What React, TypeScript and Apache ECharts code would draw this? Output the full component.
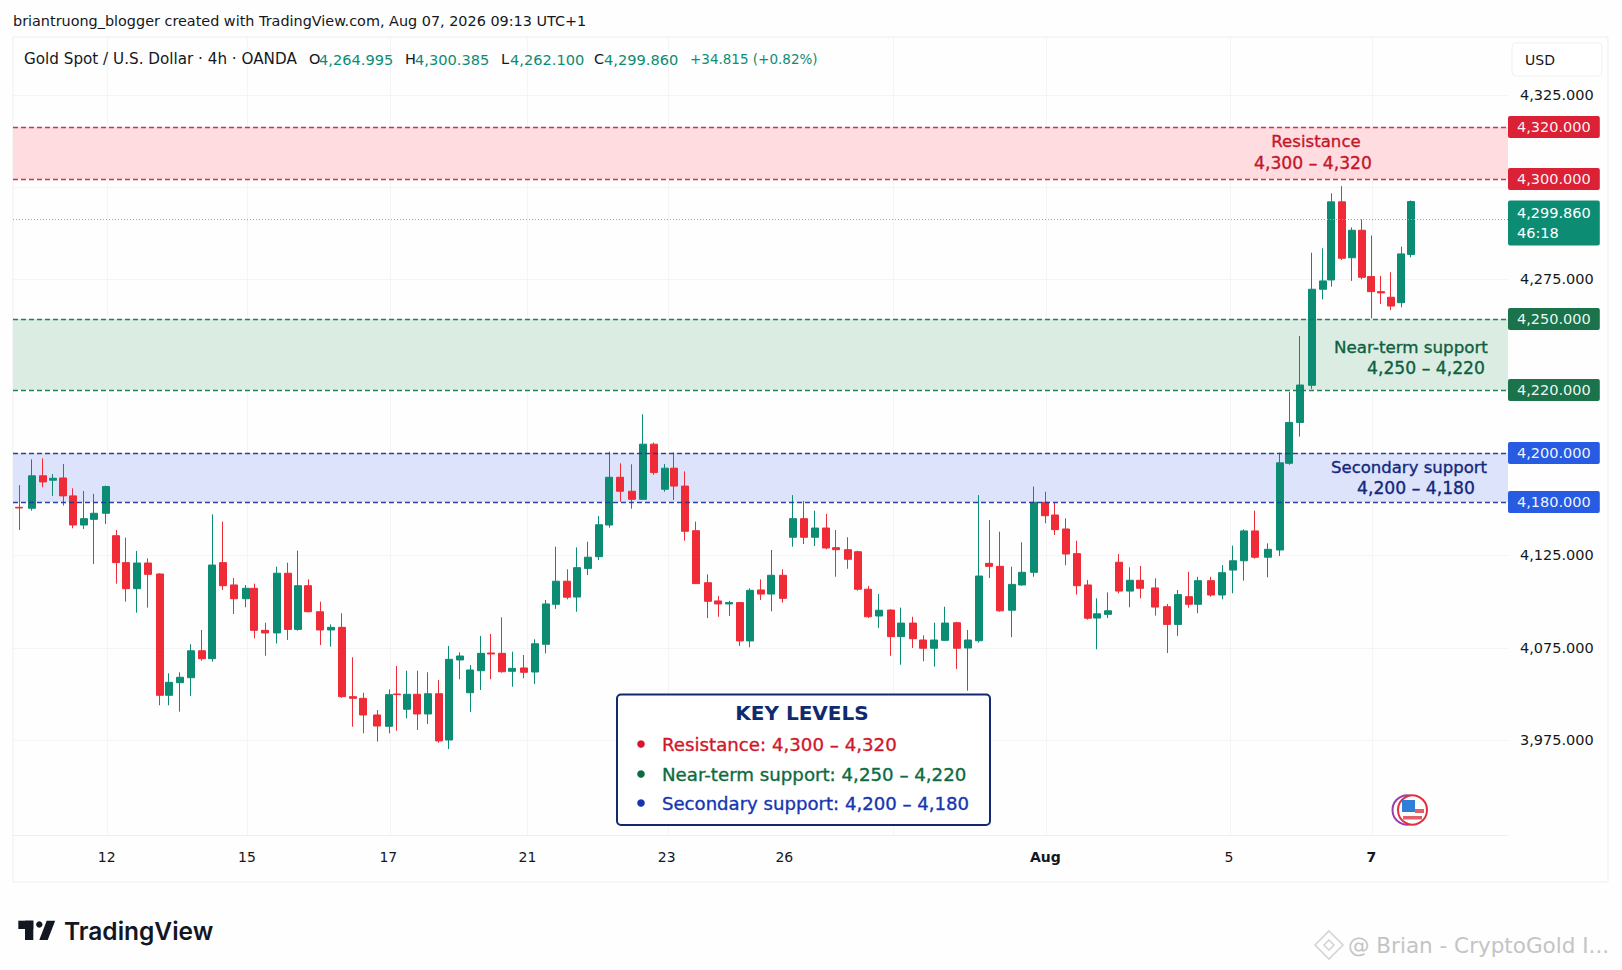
import React, { useEffect, useRef } from "react";
import * as echarts from "echarts";

const candleSlots = [
  0, 1.2, 2.2, 3.1, 4.1, 5, 6, 6.9, 8, 9,
  9.9, 10.9, 11.9, 13, 13.9, 14.9, 15.9, 16.9, 17.9, 18.9,
  19.9, 21, 21.8, 22.8, 23.9, 24.9, 25.8, 26.8, 27.9, 28.9,
  29.9, 30.9, 31.9, 33.2, 34.3, 35, 35.9, 36.9, 37.9, 38.9,
  39.8, 40.8, 41.8, 42.8, 43.7, 44.7, 45.7, 46.8, 47.8, 48.8,
  49.7, 50.8, 51.7, 52.7, 53.7, 54.7, 55.7, 56.8, 57.8, 58.8,
  59.8, 60.7, 61.7, 62.7, 63.8, 64.8, 65.8, 66.8, 67.7, 68.7,
  69.7, 70.8, 71.7, 72.7, 73.7, 74.8, 75.7, 76.8, 77.7, 78.7,
  79.7, 80.8, 81.7, 82.8, 83.8, 84.8, 85.8, 86.9, 87.9, 88.9,
  89.9, 90.9, 92, 92.9, 94, 95.1, 96, 97, 98, 99,
  99.9, 100.9, 101.9, 102.9, 103.9, 105.3, 106.4, 107.4, 108.4, 109.2,
  110.4, 111.5, 112.5, 113.5, 114.5, 115.7, 116.8, 117.7, 118.7, 119.8,
  120.8, 121.6, 122.6, 123.5, 124.4, 125.3, 126.2, 127.1, 128.1, 129,
];
const opens = [
  4174.5, 4173.5, 4190.7, 4188.9, 4189.8, 4182.5, 4156.1, 4162, 4168.3, 4145,
  4120.9, 4106.9, 4120.7, 4114.8, 4023.6, 4037.3, 4042.7, 4072, 4063.4, 4120.9,
  4108.9, 4101.5, 4107.1, 4084.5, 4083.1, 4115.2, 4085, 4108.5, 4094.5, 4084.7,
  4086.1, 4022.1, 4020.3, 4002.2, 3989.9, 4025, 4008.4, 4024.7, 4003.3, 4025.3,
  3975, 4062, 4026.4, 4050.3, 4069.6, 4069.2, 4049.7, 4053.3, 4048.9, 4077,
  4098.5, 4110.9, 4102.4, 4117.8, 4124.1, 4156.1, 4190.1, 4184.4, 4181.1, 4202.8,
  4185.2, 4193.8, 4186.5, 4150.2, 4110.1, 4100.3, 4098.7, 4099.4, 4078.8, 4106.2,
  4104, 4114.1, 4143.4, 4162.7, 4143.4, 4153, 4132.6, 4130.5, 4128.4, 4106.6,
  4092.2, 4095.4, 4081.1, 4088.4, 4079.3, 4074.7, 4079.1, 4088.6, 4075, 4078.9,
  4120.5, 4118.9, 4095.3, 4108.9, 4115.7, 4179.7, 4166.5, 4152, 4126.4, 4108.9,
  4091.1, 4093.1, 4121.1, 4105.6, 4111.4, 4107.3, 4097.2, 4087.7, 4102.6, 4098.5,
  4111.2, 4103.5, 4116.9, 4121.9, 4150, 4123.8, 4130.2, 4195.8, 4209.7, 4222,
  4268.6, 4274.4, 4299.92, 4283.8, 4295.2, 4276, 4267.1, 4263.6, 4260.2, 4285.2,
];
const closes = [
  4173.8, 4190.7, 4188.2, 4189.7, 4182.5, 4156.1, 4162.7, 4168.3, 4186.3, 4120.9,
  4106.9, 4120.7, 4114.6, 4023.6, 4037.7, 4043.2, 4072, 4063.4, 4119.6, 4108.5,
  4101.5, 4107.1, 4084.5, 4083.1, 4115.2, 4085, 4108.5, 4094.5, 4084.7, 4086.1,
  4022.1, 4020.3, 4002.2, 3990.2, 4024.3, 4024.3, 4024.7, 4003.3, 4025.3, 3974,
  4062.7, 4066.3, 4051.1, 4069.2, 4068.5, 4049.2, 4052.9, 4048.6, 4077.3, 4098.7,
  4110.9, 4102.3, 4118.2, 4123.8, 4156.4, 4190.1, 4184.4, 4181.1, 4202.8, 4192,
  4193.8, 4186.5, 4149.6, 4109.6, 4100.1, 4098.7, 4099.4, 4078.8, 4106, 4104,
  4114.1, 4101.7, 4162.7, 4143.4, 4153, 4132.3, 4130.5, 4122.7, 4106.6, 4091.8,
  4095.3, 4081.1, 4088.4, 4080, 4074.7, 4079.3, 4088.4, 4074.7, 4079.3, 4113.7,
  4118.9, 4095, 4109.2, 4115.7, 4179.7, 4165.8, 4151.3, 4126, 4108.5, 4091,
  4093.4, 4095, 4105.6, 4111.4, 4107.1, 4097, 4087.7, 4103.7, 4098.5, 4111.2,
  4103.5, 4115.5, 4121.9, 4150, 4123.8, 4130.9, 4196, 4209.7, 4222.1, 4268.6,
  4273.8, 4299.92, 4283.6, 4295.2, 4275.7, 4267.1, 4266.3, 4258.1, 4285.4, 4299.921,
];
const lows = [
  4151, 4171, 4186, 4182.5, 4176.2, 4152.7, 4152, 4120.2, 4157.2, 4109.6,
  4099.9, 4094, 4096.7, 4012.7, 4012.7, 4005.8, 4022.8, 4061.2, 4060.1, 4106.2,
  4093.3, 4096.9, 4080.2, 4066.6, 4077.4, 4079.3, 4084.3, 4094.2, 4076.6, 4075.7,
  4020.7, 3989.5, 3982.3, 3973.2, 3982.3, 3985.1, 3998.6, 3985.9, 3992.4, 3972,
  3965.2, 4041, 4005.4, 4029.3, 4041, 4048.2, 4032.9, 4042.1, 4035.9, 4069.2,
  4096, 4101.2, 4094.5, 4114.2, 4122.3, 4153.3, 4180.1, 4173.1, 4180.8, 4191.1,
  4184.2, 4180.8, 4139.8, 4109.4, 4091.1, 4091.8, 4092.2, 4076.1, 4075.4, 4100.8,
  4094.7, 4099.4, 4133.6, 4136.4, 4134.3, 4130.9, 4113.3, 4117.6, 4105.8, 4091.1,
  4085.8, 4066.6, 4056.8, 4075, 4060.5, 4054.7, 4078.8, 4052.2, 4028.6, 4077.9,
  4112.6, 4094.5, 4080.8, 4108.5, 4113.3, 4157.9, 4145.8, 4119.5, 4103.7, 4090.2,
  4073.6, 4091.1, 4104.4, 4096.9, 4101.7, 4092.4, 4069.6, 4081.5, 4096.7, 4093.7,
  4102.6, 4101.2, 4104.4, 4111.2, 4123, 4113, 4124.5, 4195.2, 4205.2, 4220.5,
  4262.3, 4270.2, 4282.9, 4273.8, 4274.8, 4250.4, 4259.4, 4255.6, 4257.3, 4284,
];
const highs = [
  4186.9, 4197.4, 4197.8, 4191.4, 4195.5, 4185.6, 4184.5, 4183.3, 4186.7, 4150.9,
  4143, 4129.2, 4123.2, 4115.2, 4047.5, 4048.6, 4077, 4084.7, 4167.2, 4159.6,
  4112.6, 4108.9, 4109.6, 4088.6, 4118.7, 4120.9, 4129.5, 4111.9, 4099.9, 4087.7,
  4093.7, 4064.9, 4026.4, 4007.6, 4030.1, 4055.4, 4050.3, 4050.3, 4048.6, 4040.2,
  4076.1, 4070.3, 4056.5, 4081.5, 4082.5, 4091.5, 4071, 4067.4, 4079.7, 4100.8,
  4133.6, 4117.3, 4132.9, 4138.8, 4165.5, 4200.4, 4195.8, 4195.4, 4212.3, 4203.3,
  4195.5, 4200.2, 4192.5, 4159.6, 4114.6, 4103, 4100.4, 4099.7, 4107.1, 4111.9,
  4130.2, 4117.3, 4182.8, 4180.4, 4171, 4167.5, 4150.9, 4143.4, 4129.5, 4108.3,
  4104, 4095.8, 4096.7, 4091.8, 4081.8, 4088.6, 4097.2, 4089.1, 4084.7, 4182.8,
  4161.3, 4149.2, 4118.7, 4138.2, 4186.3, 4184.2, 4179.7, 4163.1, 4139.8, 4111.6,
  4101.7, 4104.9, 4126, 4118.4, 4119.1, 4112.5, 4098.7, 4106.2, 4116, 4113.3,
  4113.3, 4119.6, 4134.7, 4151.7, 4171, 4137.1, 4200.1, 4219.4, 4242.8, 4285.9,
  4287.7, 4299.95, 4299.975, 4296.4, 4299.7, 4293, 4276.3, 4277.8, 4288.4, 4299.925,
];

const yTickPrices = [4325, 4275, 4125, 4075, 3975];
const resistanceLevels = [4320, 4300];
const nearTermLevels = [4250, 4220];
const secondaryLevels = [4200, 4180];
const lastPrice = 4299.86;
const countdown = "46:18";
const xTickPositions = [8.1, 21.1, 34.2, 47.1, 60, 70.9, 95.1, 112.1, 125.3];
const xTickLabels = ["12", "15", "17", "21", "23", "26", "Aug", "5", "7"];
const xGridPositions = [8.2, 21.1, 34.4, 47.1, 60.1, 81, 95.2, 112.2, 125.4];

// The picture's price labels are not evenly spaced, so the scale is read off them.
const scalePrices = [3975, 4075, 4125, 4180, 4200, 4220, 4250, 4275, 4299.86, 4300, 4320, 4325];
const scaleAxis = [95, 187, 280, 333, 382, 445, 516, 556, 616, 656, 708, 740];
const gridAxis = [95, 187, 280, 372, 464, 556, 648, 740];

function lerp(xs: number[], ys: number[], v: number) {
  let i = 0;
  while (i < xs.length - 2 && v > xs[i + 1]) i++;
  return ys[i] + ((v - xs[i]) * (ys[i + 1] - ys[i])) / (xs[i + 1] - xs[i]);
}
const toAxis = (p: number) => lerp(scalePrices, scaleAxis, p);
const fromAxis = (u: number) => lerp(scaleAxis, scalePrices, u);
const fmt = (p: number) =>
  p.toLocaleString("en-US", { minimumFractionDigits: 3, maximumFractionDigits: 3 });

const FONT = '"DejaVu Sans", sans-serif';
const UP = "#0D8C74";
const DOWN = "#EE2B36";

const levelLine = (v: number, line: string, tag: string) => ({
  yAxis: toAxis(v),
  lineStyle: { color: line, type: [5, 3], width: 1.4, opacity: 0.95 },
  label: {
    show: true,
    position: "end",
    distance: 0,
    formatter: fmt(v),
    color: "#fff",
    fontFamily: FONT,
    fontSize: 14.5,
    backgroundColor: tag,
    borderRadius: 2,
    padding: [4, 9, 3, 9],
  },
});

const text = (
  str: string,
  x: number,
  y: number,
  fill: string,
  size: number,
  align = "left",
  weight = "normal",
  family = FONT,
  heavy = 0,
) => ({
  type: "text",
  x,
  y,
  z: 20,
  silent: true,
  style: {
    text: str,
    fill,
    textAlign: align,
    textVerticalAlign: "middle",
    font: `${weight} ${size}px ${family}`,
    ...(heavy ? { stroke: fill, lineWidth: heavy } : {}),
  },
});

const medium = (str: string, x: number, y: number, fill: string, size: number, align = "left") =>
  text(str, x, y, fill, size, align, "normal", FONT, 0.35);

const poly = (points: number[][], fill: string, extra: any = {}) => ({
  type: "polygon",
  z: 20,
  silent: true,
  shape: { points },
  style: { fill, ...extra },
});

export default function App() {
  const ref = useRef<HTMLDivElement>(null);
  useEffect(() => {
    const chart = echarts.init(ref.current!, undefined, { renderer: "svg" });
    const data = opens.map((o, i) => [
      candleSlots[i],
      toAxis(o),
      toAxis(closes[i]),
      toAxis(lows[i]),
      toAxis(highs[i]),
    ]);
    const INK = "#131722";
    const GREENTXT = "#0D8C74";
    const navy = "#0F2A6E";
    chart.setOption({
      animation: false,
      backgroundColor: "#FEFEFE",
      grid: { left: 13, right: 114, top: 37, bottom: 135, containLabel: false },
      xAxis: {
        type: "value",
        min: -0.58,
        max: 137.97,
        axisLine: { show: true, onZero: false, lineStyle: { color: "#EFEFEF" } },
        axisTick: { show: false, customValues: xGridPositions },
        splitLine: { show: true, lineStyle: { color: "#F4F4F4", width: 1 } },
        axisLabel: {
          customValues: xTickPositions,
          margin: 15,
          color: INK,
          fontFamily: FONT,
          fontSize: 14,
          formatter: (v: number) => {
            const lbl = xTickLabels[xTickPositions.indexOf(v)] ?? "";
            return lbl === "Aug" || lbl === "7" ? `{b|${lbl}}` : lbl;
          },
          rich: { b: { fontWeight: "bold", fontSize: 14, fontFamily: FONT, color: INK } },
        },
      },
      yAxis: {
        type: "value",
        position: "right",
        min: 0,
        max: 798,
        axisLine: { show: false },
        axisTick: { show: false, customValues: gridAxis },
        splitLine: { show: true, lineStyle: { color: "#F4F4F4", width: 1 } },
        axisLabel: {
          customValues: yTickPrices.map(toAxis),
          margin: 12,
          color: INK,
          fontFamily: FONT,
          fontSize: 14.5,
          formatter: (v: number) => fmt(Math.round(fromAxis(v))),
        },
      },
      series: [
        {
          type: "candlestick",
          name: "XAUUSD",
          z: 3,
          barWidth: 7.5,
          clip: false,
          itemStyle: {
            color: UP,
            color0: DOWN,
            borderColor: UP,
            borderColor0: DOWN,
            borderWidth: 1,
          },
          data,
          markArea: {
            silent: true,
            z: 1,
            data: [
              [
                { yAxis: toAxis(resistanceLevels[0]), itemStyle: { color: "#FFDCE0" } },
                { yAxis: toAxis(resistanceLevels[1]) },
              ],
              [
                { yAxis: toAxis(nearTermLevels[0]), itemStyle: { color: "#DBEDE3" } },
                { yAxis: toAxis(nearTermLevels[1]) },
              ],
              [
                { yAxis: toAxis(secondaryLevels[0]), itemStyle: { color: "#DDE3FA" } },
                { yAxis: toAxis(secondaryLevels[1]) },
              ],
            ],
          },
          markLine: {
            silent: true,
            symbol: "none",
            animation: false,
            data: [
              levelLine(resistanceLevels[0], "#D8263A", "#D9152B"),
              levelLine(resistanceLevels[1], "#D8263A", "#D9152B"),
              levelLine(nearTermLevels[0], "#1B7A55", "#0E6B40"),
              levelLine(nearTermLevels[1], "#1B7A55", "#0E6B40"),
              levelLine(secondaryLevels[0], "#23389A", "#1B52E0"),
              levelLine(secondaryLevels[1], "#23389A", "#1B52E0"),
              {
                yAxis: toAxis(lastPrice),
                lineStyle: { color: "#6FBDAE", type: [1, 2], width: 1 },
                label: {
                  show: true,
                  position: "end",
                  distance: 0,
                  offset: [0, 4],
                  formatter: `${fmt(lastPrice)}\n${countdown}`,
                  color: "#fff",
                  fontFamily: FONT,
                  fontSize: 14.5,
                  lineHeight: 20,
                  align: "left",
                  backgroundColor: "#0D8C74",
                  borderRadius: 2,
                  padding: [3, 9, 2, 9],
                },
              },
            ],
          },
        },
      ],
      graphic: [
        {
          type: "rect",
          z: -1,
          silent: true,
          shape: { x: 13, y: 37, width: 1595, height: 845 },
          style: { fill: "none", stroke: "#EFEFEF", lineWidth: 1 },
        },
        text(
          "briantruong_blogger created with TradingView.com, Aug 07, 2026 09:13 UTC+1",
          13,
          21,
          INK,
          14.4,
        ),
        text("Gold Spot / U.S. Dollar · 4h · OANDA", 24, 59, INK, 15.2),
        text("O", 309, 59, INK, 14.5),
        text("4,264.995", 319, 59, GREENTXT, 14.6),
        text("H", 405, 59, INK, 14.5),
        text("4,300.385", 415, 59, GREENTXT, 14.6),
        text("L", 501, 59, INK, 14.5),
        text("4,262.100", 510, 59, GREENTXT, 14.6),
        text("C", 594, 59, INK, 14.5),
        text("4,299.860", 604, 59, GREENTXT, 14.6),
        text("+34.815 (+0.82%)", 690, 59, GREENTXT, 13.5),
        {
          type: "rect",
          z: 20,
          silent: true,
          shape: { x: 1512, y: 43, width: 90, height: 33, r: 4 },
          style: { fill: "#fff", stroke: "#F0F0F0" },
        },
        text("USD", 1525, 59.5, INK, 14),

        medium("Resistance", 1316, 141.5, "#C4162A", 16.6, "center"),
        medium("4,300 – 4,320", 1313, 163, "#C4162A", 17.2, "center"),
        medium("Near-term support", 1411, 347, "#0F5F3F", 16.7, "center"),
        medium("4,250 – 4,220", 1426, 368, "#0F5F3F", 17.2, "center"),
        medium("Secondary support", 1409, 467, "#12297A", 16.5, "center"),
        medium("4,200 – 4,180", 1416, 487.5, "#12297A", 17.2, "center"),

        {
          type: "rect",
          z: 19,
          silent: true,
          shape: { x: 617, y: 694.5, width: 373, height: 130.5, r: 4 },
          style: { fill: "#FFFFFF", stroke: navy, lineWidth: 2 },
        },
        text("KEY LEVELS", 802, 713, navy, 20, "center", "bold"),
        { type: "circle", z: 20, silent: true, shape: { cx: 641, cy: 744, r: 3.8 }, style: { fill: "#D9152B" } },
        { type: "circle", z: 20, silent: true, shape: { cx: 641, cy: 774, r: 3.8 }, style: { fill: "#0E6B40" } },
        { type: "circle", z: 20, silent: true, shape: { cx: 641, cy: 803, r: 3.8 }, style: { fill: "#1635B0" } },
        medium("Resistance: 4,300 – 4,320", 662, 744, "#D0182C", 18.2),
        medium("Near-term support: 4,250 – 4,220", 662, 774, "#0E6B40", 18.2),
        medium("Secondary support: 4,200 – 4,180", 662, 803, "#1635B0", 18.1),

        // US-data event badge
        { type: "circle", z: 20, silent: true, shape: { cx: 1407, cy: 810, r: 14.5 }, style: { fill: "#fff", stroke: "#9A3FB0", lineWidth: 2 } },
        { type: "circle", z: 21, silent: true, shape: { cx: 1412.5, cy: 810, r: 14.5 }, style: { fill: "#fff", stroke: "#E0303F", lineWidth: 2 } },
        { type: "rect", z: 22, silent: true, shape: { x: 1402, y: 800, width: 13, height: 12 }, style: { fill: "#2F7FD8" } },
        { type: "rect", z: 22, silent: true, shape: { x: 1415, y: 809, width: 9, height: 4 }, style: { fill: "#E0606A" } },
        { type: "rect", z: 22, silent: true, shape: { x: 1403, y: 816, width: 19, height: 3.5 }, style: { fill: "#E0606A" } },

        // TradingView logo
        { type: "rect", z: 20, silent: true, shape: { x: 18.3, y: 920.7, width: 15, height: 8.3 }, style: { fill: "#131722" } },
        { type: "rect", z: 20, silent: true, shape: { x: 25, y: 920.7, width: 8.3, height: 19.3 }, style: { fill: "#131722" } },
        { type: "circle", z: 20, silent: true, shape: { cx: 39.3, cy: 924.6, r: 3.2 }, style: { fill: "#131722" } },
        poly([[46.7, 920.7], [55.2, 920.7], [47.7, 940], [39.3, 940]], "#131722"),
        text("TradingView", 64, 931, "#131722", 24.5, "left", "600", "Inter, sans-serif"),

        // Watermark
        poly([[1329, 931], [1343, 945], [1329, 959], [1315, 945]], "none", { stroke: "#D4D4D4", lineWidth: 1.6 }),
        poly([[1329, 940], [1334, 945], [1329, 950], [1324, 945]], "none", { stroke: "#D4D4D4", lineWidth: 1.6 }),
        text("@ Brian - CryptoGold I...", 1348, 945, "#C4C4C4", 21.5),
      ],
    });
    return () => chart.dispose();
  }, []);
  return (
    <div
      ref={ref}
      style={{ position: "absolute", left: 0, top: 0, width: 1622, height: 970 }}
    />
  );
}
